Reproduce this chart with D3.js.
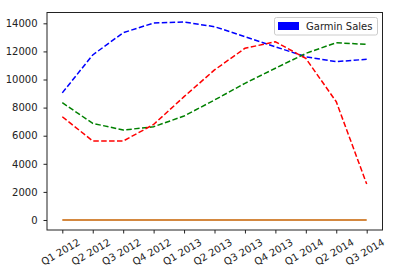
<!DOCTYPE html>
<html>
<head>
<meta charset="utf-8">
<script src="https://cdn.jsdelivr.net/npm/d3@7"></script>
<style>
  body { margin: 0; background: #fff }
  svg text { font-family: "DejaVu Sans", sans-serif; font-size: 10px; fill: #222 }
</style>
</head>
<body>
<svg id="chart" width="394" height="273"></svg>
<script>
// quarters on the x axis
var quarters = ['Q1 2012', 'Q2 2012', 'Q3 2012', 'Q4 2012', 'Q1 2013', 'Q2 2013',
                'Q3 2013', 'Q4 2013', 'Q1 2014', 'Q2 2014', 'Q3 2014']

// values
var blueSeries  = [9050, 11750, 13330, 14020, 14090, 13760, 13050, 12330, 11620, 11270, 11440]
var redSeries   = [7350, 5620, 5620, 6800, 8780, 10680, 12220, 12690, 11500, 8420, 2560]
var greenSeries = [8350, 6880, 6400, 6640, 7400, 8540, 9730, 10800, 11860, 12620, 12500]
var zeroSeries  = [0, 0, 0, 0, 0, 0, 0, 0, 0, 0, 0]

var yTicks = [0, 2000, 4000, 6000, 8000, 10000, 12000, 14000]
var legendLabels = ['Garmin Sales']

var margin = { left: 47, right: 11.5, top: 12.5, bottom: 43 }
var width = 394, height = 273

var svg = d3.select('#chart')

var x = d3.scalePoint().domain(quarters)
  .range([62.3, 366.7])

var y = d3.scaleLinear().domain([-712, 14770])
  .range([height - margin.bottom, margin.top])

var line = d3.line()
  .x(function (d, i) { return x(quarters[i]) })
  .y(function (d) { return y(d) })

// solid line at zero (drawn first, under the dashed ones)
svg.append('path').datum(zeroSeries)
  .attr('d', line).attr('fill', 'none')
  .attr('stroke', '#d4883f').attr('stroke-width', 2)

var dashed = [
  { values: blueSeries,  color: '#0000ff' },
  { values: greenSeries, color: '#008000' },
  { values: redSeries,   color: '#ff0000' }
]

svg.selectAll('path.series').data(dashed).enter()
  .append('path').attr('class', 'series')
  .attr('d', function (d) { return line(d.values) })
  .attr('fill', 'none')
  .attr('stroke', function (d) { return d.color })
  .attr('stroke-width', 1.5)
  .attr('stroke-dasharray', '5.5,2.4')

// frame
svg.append('rect')
  .attr('x', margin.left).attr('y', margin.top)
  .attr('width', width - margin.left - margin.right)
  .attr('height', height - margin.top - margin.bottom)
  .attr('fill', 'none').attr('stroke', '#222').attr('stroke-width', 1)

// y axis
var yAxis = svg.append('g')
  .attr('transform', 'translate(' + margin.left + ',0)')
  .call(d3.axisLeft(y).tickValues(yTicks).tickSize(3.5).tickPadding(6).tickFormat(d3.format('d')))
yAxis.select('.domain').remove()
yAxis.selectAll('line').attr('stroke', '#222')
yAxis.selectAll('text').attr('font-size', null).attr('font-family', null)

// x axis, labels rotated 30 degrees
var xAxis = svg.append('g')
  .attr('transform', 'translate(0,' + (height - margin.bottom) + ')')
  .call(d3.axisBottom(x).tickSize(3.5).tickFormat(''))
xAxis.select('.domain').remove()
xAxis.selectAll('line').attr('stroke', '#222')

svg.append('g').selectAll('text').data(quarters).enter()
  .append('text')
  .attr('transform', function (d) {
    return 'translate(' + (x(d) - 1.8) + ',' + (height - margin.bottom + 22) + ') rotate(-30)'
  })
  .attr('text-anchor', 'middle')
  .attr('dominant-baseline', 'central')
  .text(function (d) { return d })

// legend
var legend = svg.append('g')
legend.append('rect')
  .attr('x', 274.5).attr('y', 17.5).attr('width', 103).attr('height', 17.5)
  .attr('rx', 2).attr('fill', '#fff').attr('fill-opacity', 0.8)
  .attr('stroke', '#ccc').attr('stroke-width', 1)
legend.selectAll('rect.patch').data(legendLabels).enter()
  .append('rect').attr('class', 'patch')
  .attr('x', 278).attr('y', 22).attr('width', 21).attr('height', 8)
  .attr('fill', '#0000ff')
legend.selectAll('text').data(legendLabels).enter()
  .append('text')
  .attr('x', 306).attr('y', 26.5)
  .attr('dominant-baseline', 'central')
  .text(function (d) { return d })
</script>
</body>
</html>
